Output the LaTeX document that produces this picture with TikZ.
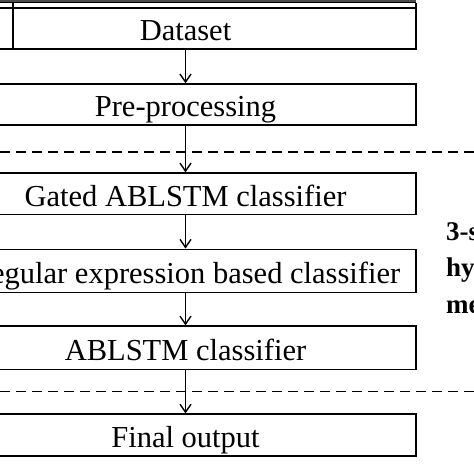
\documentclass[tikz,border=0pt]{standalone}
\usepackage{fontspec}
\setmainfont{Liberation Serif}
\usetikzlibrary{arrows.meta}
\begin{document}
\begin{tikzpicture}[x=1pt,y=1pt,
  box/.style={draw, line width=1.4pt, rectangle, inner sep=0pt, minimum width=461pt,
    text height=25pt, text depth=0pt, font=\fontsize{30.5}{36}\selectfont},
  flow/.style={line width=1.4pt, -{Straight Barb[length=8pt,width=11pt,line width=1.4pt]}},
  sepline/.style={line width=1.4pt, dash pattern=on 10pt off 6pt},
  side/.style={font=\fontsize{27}{32}\selectfont\bfseries, anchor=base west, inner sep=0pt}]
\useasboundingbox (0,0) rectangle (474,474);
\clip (0,0) rectangle (474,474);
% top band (remains of the element above)
\fill[black!70] (0,471.8) rectangle (416,474);
\draw[line width=1.1pt] (0,471.2) -- (416,471.2);
% boxes
\node[box, minimum height=41pt]   (data)  at (185.5,445.5) {Dataset};
\node[box, minimum height=41pt]   (pre)   at (185.5,369.5) {Pre-processing};
\node[box, minimum height=41.3pt] (gated) at (185.5,280.3) {Gated ABLSTM classifier};
\node[box, minimum height=43.4pt] (regex) at (185.5,203)   {Regular expression based classifier};
\node[box, minimum height=43.3pt] (abl)   at (185.5,126.3) {ABLSTM classifier};
\node[box, minimum height=41.7pt] (final) at (185.5,39)    {Final output};
% vertical lines in the top row
\draw[line width=1.4pt] (13,471.2) -- (13,425);
\draw[line width=1.4pt] (416,471.2) -- (416,466);
% dashed separators
\draw[sepline] (0,322) -- (474,322);
\draw[sepline] (0,82.3) -- (474,82.3);
% connectors
\draw[flow] (data) -- (pre);
\draw[flow] (pre) -- (gated);
\draw[flow] (gated) -- (regex);
\draw[flow] (regex) -- (abl);
\draw[flow] (abl) -- (final);
% side label
\node[side] (t1) at (446,233) {3-stage};
\node[side] (t2) at (446,197) {hybrid};
\node[side] (t3) at (446,160) {method};
\end{tikzpicture}
\end{document}
